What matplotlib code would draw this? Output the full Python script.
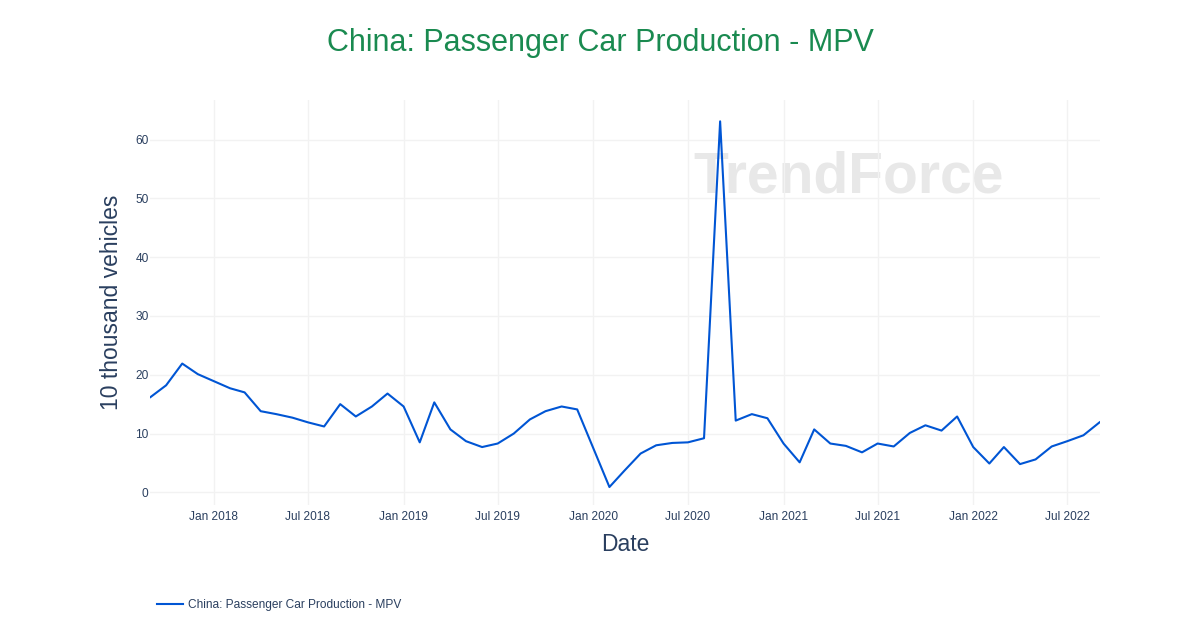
import pandas as pd
import matplotlib.pyplot as plt
import matplotlib.dates as mdates

# monthly MPV production, 10 thousand vehicles, Sep 2017 - Sep 2022
months = pd.date_range("2017-09-01", "2022-09-01", freq="MS")
values = [
    16.2, 18.2, 21.9, 20.1,                                          # 2017 Sep-Dec
    18.9, 17.7, 17.0, 13.8, 13.3, 12.7, 11.9, 11.2, 15.0, 12.9, 14.6, 16.8,  # 2018
    14.6, 8.5, 15.3, 10.7, 8.7, 7.7, 8.3, 10.0, 12.4, 13.8, 14.6, 14.1,      # 2019
    7.5, 0.9, 3.7, 6.6, 8.0, 8.4, 8.5, 9.2, 63.1, 12.2, 13.3, 12.6,          # 2020
    8.3, 5.1, 10.7, 8.3, 7.9, 6.8, 8.3, 7.8, 10.1, 11.4, 10.5, 12.9,         # 2021
    7.7, 4.9, 7.7, 4.8, 5.6, 7.8, 8.7, 9.7, 11.9,                            # 2022 Jan-Sep
]
series_name = "China: Passenger Car Production - MPV"
tick_dates = pd.date_range("2018-01-01", "2022-07-01", freq="6MS")
tick_labels = [d.strftime("%b %Y") for d in tick_dates]

plt.rcParams['font.family'] = ['Liberation Sans', 'DejaVu Sans']
text_col = '#2a3f5f'

fig = plt.figure(figsize=(12, 6.3), dpi=100)
ax = fig.add_axes([0.125, 0.198, 0.7917, 0.643])

ax.plot(months, values, color='#0055d4', lw=1.5, zorder=3, label=series_name)

ax.set_xlim(months[0] - pd.Timedelta(days=1), months[-1] + pd.Timedelta(days=1))
ax.set_ylim(-2.2, 66.7)
ax.set_yticks([0, 10, 20, 30, 40, 50, 60])
ax.set_xticks(tick_dates)
ax.set_xticklabels(tick_labels)
ax.grid(True, color='#f2f2f2', lw=1, zorder=0)
ax.axhline(0, color='white', lw=2.5, zorder=1)
ax.tick_params(length=0, labelsize=8.6, labelcolor=text_col)
ax.tick_params(axis='x', pad=4)
ax.tick_params(axis='y', pad=1)
for s in ax.spines.values():
    s.set_visible(False)

ax.set_xlabel("Date", fontsize=16.5, color=text_col, labelpad=7)
ax.set_ylabel("10 thousand vehicles", fontsize=16.5, color=text_col, labelpad=9)

# watermark
ax.text(0.572, 0.81, "TrendForce", transform=ax.transAxes, fontsize=41,
        fontweight='bold', color='#e8e8e8', ha='left', va='center', zorder=0.5)

fig.text(0.5, 0.932, series_name, ha='center', va='center', fontsize=22,
         color='#1a8a50')

fig.legend(loc='lower left', bbox_to_anchor=(0.122, 0.013), frameon=False,
           fontsize=8.6, labelcolor=text_col, handlelength=2.2, handletextpad=0.4)

fig.savefig("out.png", dpi=100, facecolor='white')
